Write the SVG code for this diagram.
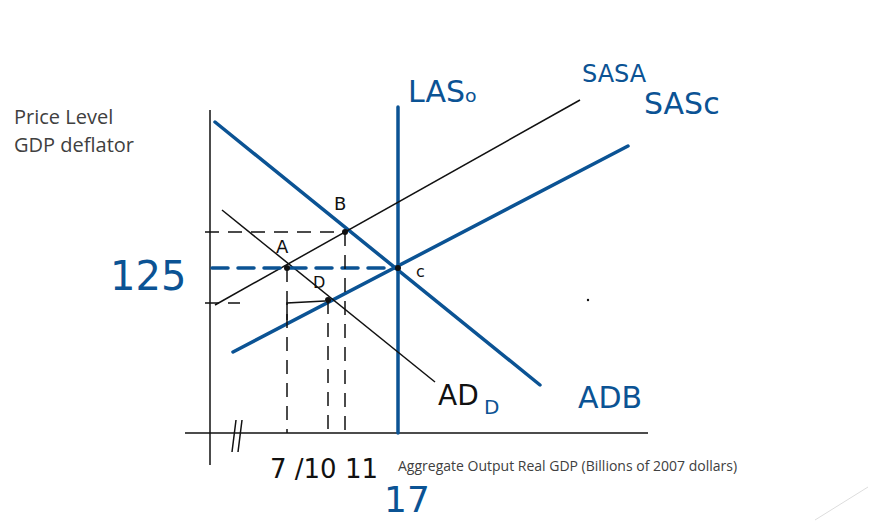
<svg xmlns="http://www.w3.org/2000/svg" width="871" height="523" viewBox="0 0 871 523">
<style>
.blue{stroke:#0b5394;stroke-width:3.5;fill:none;stroke-linecap:round}
.blk{stroke:#111;stroke-width:1.5;fill:none}
.dash{stroke:#111;stroke-width:1.5;stroke-dasharray:14 9;fill:none}
.hw{font-family:"Comic Sans MS","DejaVu Sans",sans-serif;fill:#0b5394}
.lab{font-family:"Open Sans","Liberation Sans",sans-serif;fill:#404040}
</style>
<rect width="871" height="523" fill="#fff"/>
<text class="lab" x="14" y="124" font-size="20">Price Level</text>
<text class="lab" x="14" y="152" font-size="20">GDP deflator</text>
<g id="axes">
<line class="blk" x1="210" y1="110" x2="210" y2="465" stroke-width="3"/>
<line class="blk" x1="185" y1="433" x2="648" y2="433" stroke-width="3"/>
<path class="blk" d="M232 452 L236 420 M238 452 L242 420"/>
</g>
<g id="connectors">
<line class="blue" x1="398" y1="107" x2="398" y2="433"/>
<line class="blue" x1="215" y1="122" x2="540" y2="385"/>
<line class="blue" x1="233" y1="352" x2="628" y2="146"/>
<line class="blk" x1="215" y1="305" x2="580" y2="100"/>
<line class="blk" x1="222" y1="210" x2="435" y2="382"/>
<line class="dash" x1="205" y1="232" x2="345" y2="232"/>
<line class="blue" x1="212" y1="268" x2="398" y2="268" stroke-dasharray="16 10"/>
<line class="dash" x1="205" y1="303" x2="240" y2="303"/>
<path class="blk" d="M287 320 L287 303 L325 301"/>
<line class="dash" x1="287" y1="268" x2="287" y2="433"/>
<line class="dash" x1="328" y1="300" x2="328" y2="433"/>
<line class="dash" x1="345" y1="232" x2="345" y2="430"/>
<line x1="815" y1="520" x2="868" y2="487" stroke="#ddd" stroke-width="1"/>
</g>
<g id="points" fill="#111">
<circle cx="287" cy="268" r="3"/><circle cx="345" cy="232" r="3"/>
<circle cx="398" cy="268" r="3"/><circle cx="328" cy="300" r="3"/>
<circle cx="588" cy="300" r="1.2"/>
</g>
<g id="labels">
<text x="334" y="210" font-family="DejaVu Sans,sans-serif" font-size="18" fill="#111">B</text>
<text x="276" y="253" font-family="DejaVu Sans,sans-serif" font-size="18" fill="#111">A</text>
<text x="313" y="288" font-family="DejaVu Sans,sans-serif" font-size="16" fill="#111">D</text>
<text x="416" y="277" font-family="DejaVu Sans,sans-serif" font-size="16" fill="#111">c</text>
<text class="hw" x="408" y="102" font-size="30">LASₒ</text>
<text class="hw" x="582" y="82" font-size="24">SASA</text>
<text class="hw" x="644" y="114" font-size="30">SASc</text>
<text class="hw" x="578" y="408" font-size="30">ADB</text>
<text x="438" y="405" font-family="Comic Sans MS,DejaVu Sans,sans-serif" font-size="28" fill="#111">AD</text>
<text class="hw" x="484" y="414" font-size="20">D</text>
<text class="hw" x="110" y="290" font-size="40">125</text>
<text x="270" y="478" font-family="Comic Sans MS,DejaVu Sans,sans-serif" font-size="26" fill="#111">7 /10 11</text>
<text class="hw" x="384" y="512" font-size="36">17</text>
<text class="lab" x="398" y="471" font-size="14">Aggregate Output Real GDP (Billions of 2007 dollars)</text>
</g>
</svg>
